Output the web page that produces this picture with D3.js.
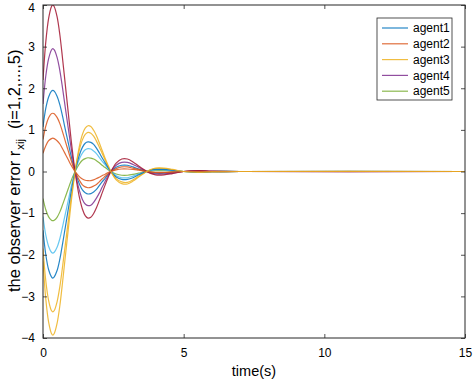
<!DOCTYPE html>
<html>
<head>
<meta charset="utf-8">
<script src="https://cdn.jsdelivr.net/npm/d3@7"></script>
<style>
  html, body { margin: 0; padding: 0; background: #fff; }
  svg { display: block; font-family: "Liberation Sans", Arial, sans-serif; }
</style>
</head>
<body>
<svg id="chart" width="474" height="382"></svg>
<script>
// ---- data ----
const time = [0,0.1,0.2,0.3,0.35,0.4,0.5,0.6,0.7,0.8,0.9,1.0,1.1,1.2,1.3,1.4,1.5,1.6,1.7,1.8,1.9,2.0,2.1,2.2,2.3,2.4,2.6,2.8,3.0,3.2,3.4,3.6,3.8,4.0,4.3,4.6,5.0,5.5,6,7,15];

const curve1  = [1.07,1.52,1.79,1.93,1.95,1.93,1.81,1.60,1.31,0.99,0.68,0.37,0.10,-0.13,-0.31,-0.44,-0.51,-0.54,-0.53,-0.49,-0.43,-0.34,-0.25,-0.17,-0.08,-0.01,0.10,0.15,0.15,0.11,0.06,0.02,-0.02,-0.04,-0.04,-0.02,0.00,0.01,0.00,0,0];
const curve2  = [0.77,1.09,1.29,1.39,1.40,1.39,1.30,1.15,0.94,0.71,0.49,0.27,0.07,-0.09,-0.22,-0.32,-0.37,-0.39,-0.38,-0.35,-0.31,-0.25,-0.18,-0.12,-0.06,-0.01,0.07,0.11,0.11,0.08,0.05,0.01,-0.01,-0.03,-0.03,-0.02,0.00,0.01,0.00,0,0];
const curve3  = [-1.85,-2.63,-3.10,-3.34,-3.37,-3.34,-3.13,-2.76,-2.26,-1.72,-1.18,-0.64,-0.17,0.23,0.54,0.76,0.89,0.94,0.92,0.85,0.73,0.59,0.44,0.29,0.14,0.01,-0.17,-0.25,-0.26,-0.20,-0.11,-0.03,0.03,0.07,0.07,0.04,0.00,-0.02,-0.01,0,0];
const curve4  = [1.62,2.30,2.71,2.92,2.95,2.92,2.74,2.42,1.98,1.50,1.03,0.56,0.15,-0.20,-0.47,-0.67,-0.78,-0.82,-0.81,-0.74,-0.64,-0.52,-0.38,-0.25,-0.12,-0.01,0.15,0.22,0.22,0.17,0.10,0.03,-0.03,-0.06,-0.06,-0.04,0.00,0.02,0.01,0,0];
const curve5  = [-0.65,-0.92,-1.09,-1.17,-1.18,-1.17,-1.10,-0.97,-0.79,-0.60,-0.41,-0.22,-0.06,0.08,0.19,0.27,0.31,0.33,0.32,0.30,0.26,0.21,0.15,0.10,0.05,0.00,-0.06,-0.09,-0.09,-0.07,-0.04,-0.01,0.01,0.02,0.02,0.01,0.00,-0.01,0.00,0,0];
const curve6  = [-1.08,-1.53,-1.80,-1.94,-1.96,-1.94,-1.82,-1.61,-1.31,-1.00,-0.69,-0.37,-0.10,0.13,0.31,0.44,0.52,0.55,0.54,0.49,0.43,0.34,0.25,0.17,0.08,0.01,-0.10,-0.15,-0.15,-0.11,-0.06,-0.02,0.02,0.04,0.04,0.02,0.00,-0.01,0.00,0,0];
const curve7  = [2.20,3.12,3.68,3.96,4.00,3.96,3.72,3.28,2.68,2.04,1.40,0.76,0.20,-0.27,-0.64,-0.90,-1.06,-1.12,-1.10,-1.01,-0.87,-0.70,-0.52,-0.34,-0.17,-0.02,0.20,0.30,0.30,0.23,0.13,0.04,-0.04,-0.08,-0.08,-0.05,0.00,0.02,0.01,0,0];
const curve8  = [-1.41,-2.00,-2.36,-2.53,-2.56,-2.53,-2.38,-2.10,-1.72,-1.31,-0.90,-0.49,-0.13,0.17,0.41,0.58,0.68,0.71,0.70,0.65,0.56,0.45,0.33,0.22,0.11,0.01,-0.13,-0.19,-0.19,-0.15,-0.08,-0.02,0.03,0.05,0.05,0.03,0.00,-0.02,-0.01,0,0];
const curve9  = [0.44,0.62,0.74,0.79,0.80,0.79,0.74,0.66,0.54,0.41,0.28,0.15,0.04,-0.05,-0.13,-0.18,-0.21,-0.22,-0.22,-0.20,-0.17,-0.14,-0.10,-0.07,-0.03,0.00,0.04,0.06,0.06,0.05,0.03,0.01,-0.01,-0.02,-0.02,-0.01,0.00,0.00,0.00,0,0];
const curve10 = [-2.16,-3.07,-3.62,-3.89,-3.93,-3.89,-3.65,-3.22,-2.63,-2.00,-1.38,-0.75,-0.20,0.26,0.63,0.89,1.04,1.10,1.08,0.99,0.86,0.69,0.51,0.33,0.17,0.02,-0.20,-0.29,-0.30,-0.23,-0.13,-0.04,0.04,0.08,0.08,0.05,0.00,-0.02,-0.01,0,0];

const legendLabels = ["agent1","agent2","agent3","agent4","agent5"];
const xTicks = [0,5,10,15];
const yTicks = [-4,-3,-2,-1,0,1,2,3,4];

const series = [curve1,curve2,curve3,curve4,curve5,curve6,curve7,curve8,curve9,curve10];
const palette = ["#0072BD","#D95319","#EDB120","#7E2F8E","#77AC30","#4DBEEE","#A2142F"];

// ---- layout ----
const svg = d3.select("#chart");
const L = 43, R = 465, T = 5, B = 338;
const x = d3.scaleLinear().domain([0,15]).range([L,R]);
const y = d3.scaleLinear().domain([-4,4]).range([B,T]);
const axisColor = "#262626";

svg.append("defs").append("clipPath").attr("id","clip")
  .append("rect").attr("x",L).attr("y",T).attr("width",R-L).attr("height",B-T);

// lines
const line = d3.line().x((d,i)=>x(time[i])).y(d=>y(d)).curve(d3.curveCatmullRom.alpha(0.5));
const gLines = svg.append("g").attr("clip-path","url(#clip)");
series.forEach((s,k)=>{
  gLines.append("path").attr("d",line(s)).attr("fill","none")
    .attr("stroke",palette[k%palette.length]).attr("stroke-width",1.2)
    .attr("stroke-opacity",0.85);
});

// axes (MATLAB box style, ticks inward)
const fontSize = 12;
const xAxisB = d3.axisBottom(x).tickValues(xTicks).tickSizeInner(-4).tickSizeOuter(0).tickPadding(10);
const xAxisT = d3.axisTop(x).tickValues(xTicks).tickSizeInner(-4).tickSizeOuter(0).tickFormat("");
const yAxisL = d3.axisLeft(y).tickValues(yTicks).tickSizeInner(-4).tickSizeOuter(0).tickPadding(8);
const yAxisR = d3.axisRight(y).tickValues(yTicks).tickSizeInner(-4).tickSizeOuter(0).tickFormat("");

function style(g){
  g.select(".domain").remove();
  g.selectAll("line").attr("stroke",axisColor).attr("stroke-width",0.8);
  g.selectAll("text").attr("fill","#000").style("font-size",fontSize+"px")
    .style("font-family","'Liberation Sans', Arial, sans-serif");
}
svg.append("g").attr("transform",`translate(0,${B})`).call(xAxisB).call(style);
svg.append("g").attr("transform",`translate(0,${T})`).call(xAxisT).call(style);
const gy = svg.append("g").attr("transform",`translate(${L},0)`).call(yAxisL).call(style);
// keep the top label just inside the picture
gy.selectAll(".tick").filter(d=>d===4).select("text").attr("dy","0.5em");
svg.append("g").attr("transform",`translate(${R},0)`).call(yAxisR).call(style);

// frame
svg.append("rect").attr("x",L).attr("y",T).attr("width",R-L).attr("height",B-T)
  .attr("fill","none").attr("stroke",axisColor).attr("stroke-width",1);

// axis titles
svg.append("text").attr("x",254).attr("y",376).attr("text-anchor","middle")
  .style("font-size","14.5px").text("time(s)");

const yt = svg.append("text").attr("transform",`translate(20,292) rotate(-90)`)
  .attr("text-anchor","start").style("font-size","16.5px");
yt.append("tspan").text("the observer error r");
yt.append("tspan").attr("dx",1).attr("dy",4).style("font-size","11.5px").text("xij");
yt.append("tspan").attr("dx",10).attr("dy",-4).text("(i=1,2,...,5)");

// legend
const lg = svg.append("g");
const lx = 377, ly = 18, lw = 75, lh = 82;
lg.append("rect").attr("x",lx).attr("y",ly).attr("width",lw).attr("height",lh)
  .attr("fill","#fff").attr("stroke",axisColor).attr("stroke-width",0.8);
legendLabels.forEach((lab,i)=>{
  const yy = 28 + i*15.8;
  lg.append("line").attr("x1",382).attr("x2",408).attr("y1",yy).attr("y2",yy)
    .attr("stroke",palette[i]).attr("stroke-width",1.2).attr("stroke-opacity",0.85);
  lg.append("text").attr("x",413).attr("y",yy+4.2).style("font-size","12px").text(lab);
});
</script>
</body>
</html>
